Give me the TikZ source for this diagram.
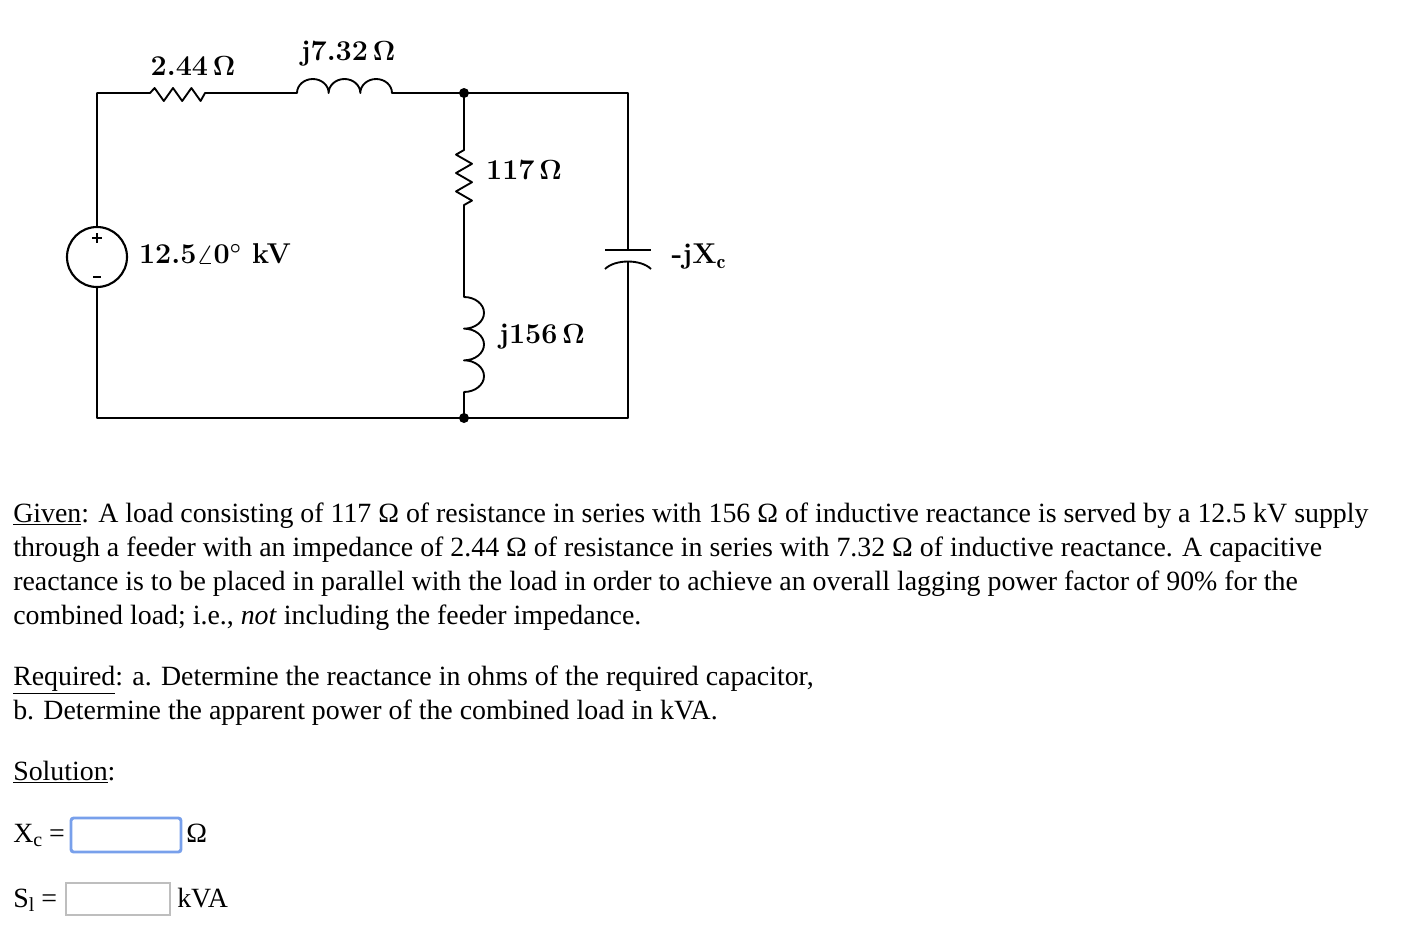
\documentclass[tikz,border=0pt]{standalone}
\usepackage{fontspec}
\newfontfamily\tnr{Liberation Serif}
\begin{document}
\begin{tikzpicture}[x=0.75pt,y=-0.75pt,
  wire/.style={line width=1.4pt,line join=round},
  sign/.style={line width=1.5pt},
  clab/.style={font=\fontsize{21.5}{21.5}\selectfont\bfseries\boldmath},
  txt/.style={anchor=base west,inner sep=0pt,font=\tnr\fontsize{20.9}{24}\selectfont}]
\useasboundingbox (0,0) rectangle (1402,940);
% nodes
\coordinate (tl) at (97,93); \coordinate (bl) at (97,418);
\coordinate (r1a) at (150,93); \coordinate (r1b) at (205,93);
\coordinate (l1a) at (297,93); \coordinate (l1b) at (392,93);
\coordinate (nt) at (464,93); \coordinate (nb) at (464,418);
\coordinate (tr) at (628,93); \coordinate (br) at (628,418);
\coordinate (r2a) at (464,150); \coordinate (r2b) at (464,205);
\coordinate (l2a) at (464,297); \coordinate (l2b) at (464,392);
\coordinate (c1) at (628,250); \coordinate (c2) at (628,262);
\node[circle,draw,line width=1.6pt,minimum size=45pt,inner sep=0pt] (src) at (97,257) {};
\draw[sign] (92,238) -- (102,238) (97,233) -- (97,243);
\draw[sign] (93,277) -- (101,277);
% wires
\draw[wire] (src.north) -- (tl) -- (r1a)
  -- ++(4.6,-5) -- ++(9.2,13) -- ++(9.2,-13) -- ++(9.2,13) -- ++(9.2,-13) -- ++(9.2,13) -- (r1b)
  -- (l1a) arc[start angle=180,end angle=360,x radius=15.83,y radius=14]
  arc[start angle=180,end angle=360,x radius=15.83,y radius=14]
  arc[start angle=180,end angle=360,x radius=15.83,y radius=14] -- (nt) -- (tr) -- (c1);
\draw[wire] (nt) -- (r2a)
  -- ++(-8,4.6) -- ++(16,9.2) -- ++(-16,9.2) -- ++(16,9.2) -- ++(-16,9.2) -- ++(16,9.2) -- (r2b)
  -- (l2a) arc[start angle=-90,end angle=90,x radius=20,y radius=15.83]
  arc[start angle=-90,end angle=90,x radius=20,y radius=15.83]
  arc[start angle=-90,end angle=90,x radius=20,y radius=15.83] -- (nb);
\draw[wire] (src.south) -- (bl) -- (nb) -- (br) -- (c2);
\draw[wire] (605,250) -- (651,250);
\draw[wire] (605,269) .. controls (615,259) and (641,259) .. (651,269);
\fill (nt) circle[radius=5]; \fill (nb) circle[radius=5];
% labels
\node[clab] (a) at (193,66) {2.44\,$\Omega$};
\node[clab] (b) at (348,54) {j7.32\,$\Omega$};
\node[clab] (c) at (524,170) {117\,$\Omega$};
\node[clab] (d) at (542,337) {j156\,$\Omega$};
\node[clab] (e) at (215,254) {12.5$\angle$0$^\circ$ kV};
\node[clab] (f) at (699,257) {-jX$_{\mathrm c}$};
% text
\node[txt] at (13,522) {\underline{Given}: A load consisting of 117 Ω of resistance in series with 156 Ω of inductive reactance is served by a 12.5 kV supply};
\node[txt] at (13,556) {through a feeder with an impedance of 2.44 Ω of resistance in series with 7.32 Ω of inductive reactance. A capacitive};
\node[txt] at (13,590) {reactance is to be placed in parallel with the load in order to achieve an overall lagging power factor of 90\% for the};
\node[txt] at (13,624) {combined load; i.e., \textit{not} including the feeder impedance.};
\node[txt] at (13,685) {\underline{Required}: a. Determine the reactance in ohms of the required capacitor,};
\node[txt] at (13,719) {b. Determine the apparent power of the combined load in kVA.};
\node[txt] at (13,780) {\underline{Solution}:};
\node[txt] at (13,842) {X\raisebox{-0.35ex}{\fontsize{15}{15}\selectfont c} =};
\draw[rounded corners=2pt,line width=2.2pt,draw={rgb,255:red,120;green,160;blue,235}] (71,818) rectangle (181,852);
\node[txt] at (186,842) {Ω};
\node[txt] at (13,907) {S\raisebox{-0.35ex}{\fontsize{15}{15}\selectfont l} =};
\draw[line width=0.8pt,draw={rgb,255:red,190;green,190;blue,190}] (66,883) rectangle (170,915);
\node[txt] at (177,907) {kVA};
\end{tikzpicture}
\end{document}
